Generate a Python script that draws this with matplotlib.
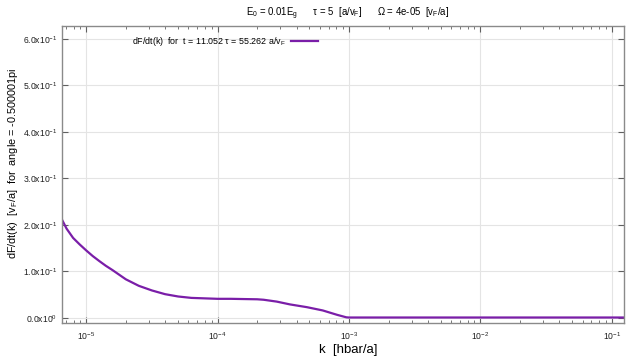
import matplotlib
matplotlib.use("Agg")
import matplotlib.pyplot as plt

plt.rcParams['font.family'] = ['Liberation Sans', 'DejaVu Sans']
plt.rcParams['mathtext.default'] = 'regular'

# k values [hbar/a] and dF/dt
k = [6.46e-6, 7.08e-6, 7.94e-6, 8.91e-6, 1.0e-5, 1.12e-5, 1.26e-5, 1.41e-5,
     1.58e-5, 2.0e-5, 2.51e-5, 3.16e-5, 3.98e-5, 5.01e-5, 6.31e-5, 7.94e-5,
     1.0e-4, 1.26e-4, 1.58e-4, 2.0e-4, 2.24e-4, 2.82e-4, 3.55e-4, 4.79e-4,
     6.31e-4, 8.13e-4, 9.55e-4, 1.0e-3, 3e-3, 1e-2, 4e-2, 0.124]
dfdt = [0.214, 0.192, 0.172, 0.158, 0.145, 0.133, 0.122, 0.112,
        0.103, 0.083, 0.069, 0.059, 0.051, 0.046, 0.043, 0.042,
        0.041, 0.041, 0.0405, 0.040, 0.039, 0.035, 0.029, 0.023,
        0.016, 0.0065, 0.0012, 0.0008, 0.0008, 0.0008, 0.0008, 0.0008]

yticks = [0.0, 0.1, 0.2, 0.3, 0.4, 0.5, 0.6]
ytick_labels = ['0.0x10$^{0}$', '1.0x10$^{-1}$', '2.0x10$^{-1}$', '3.0x10$^{-1}$',
                '4.0x10$^{-1}$', '5.0x10$^{-1}$', '6.0x10$^{-1}$']
xticks = [1e-5, 1e-4, 1e-3, 1e-2, 1e-1]
xtick_labels = ['10$^{-5}$', '10$^{-4}$', '10$^{-3}$', '10$^{-2}$', '10$^{-1}$']

fig = plt.figure(figsize=(6.4, 3.6), dpi=100)
ax = fig.add_axes([0.0964, 0.1028, 0.8786, 0.825])

ax.plot(k, dfdt, color='#7a1ea8', lw=1.6,
        label='dF/dt(k)  for  t = 11.052 τ = 55.262 a/v$_F$')

ax.set_xscale('log')
ax.set_xlim(6.5e-6, 0.124)
ax.set_ylim(-0.011, 0.628)

ax.set_xticks(xticks)
ax.set_xticklabels(xtick_labels)
ax.set_yticks(yticks)
ax.set_yticklabels(ytick_labels)
ax.tick_params(axis='both', which='both', direction='in', top=True, right=True,
               labelsize=6.2, colors='#606060', labelcolor='#202020')
ax.tick_params(which='major', length=4)
ax.tick_params(which='minor', length=2)
ax.tick_params(axis='x', pad=5)
ax.tick_params(axis='y', pad=3)

ax.grid(True, which='major', color='#e4e4e4', lw=0.8)
for s in ax.spines.values():
    s.set_color('#8a8a8a')
    s.set_linewidth(1.0)

ax.set_xlabel('k  [hbar/a]', fontsize=9.5)
ax.xaxis.set_label_coords(0.509, -0.091)
ax.xaxis.label.set_va('center')
ax.set_ylabel('dF/dt(k)  [v$_F$/a]  for  angle = -0.500001pi', fontsize=7.8)
ax.yaxis.set_label_coords(-0.0866, 0.539)
ax.yaxis.label.set_va('center')

fig.text(348 / 640, 1 - 14 / 360,
         'E$_0$ = 0.01E$_g$      τ = 5  [a/v$_F$]      Ω = 4e-05  [v$_F$/a]',
         ha='center', va='center', fontsize=6.9)

ax.legend(loc='center right', bbox_to_anchor=(318 / 640, 1 - 42 / 360),
          bbox_transform=fig.transFigure, frameon=False, markerfirst=False,
          fontsize=6.4, handlelength=3.0, handletextpad=0.6,
          borderpad=0, borderaxespad=0)

fig.savefig('out.png', dpi=100)
